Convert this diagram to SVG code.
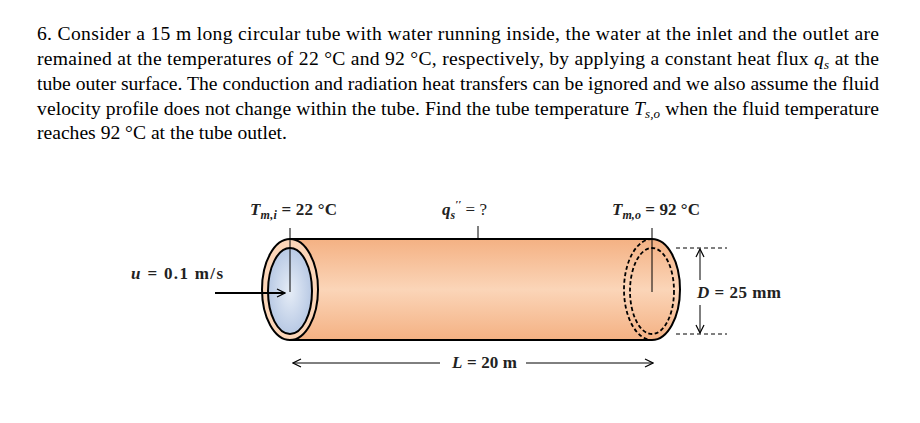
<svg xmlns="http://www.w3.org/2000/svg" width="920" height="423" viewBox="0 0 920 423">
<defs>
<linearGradient id="tg" x1="0" y1="0" x2="0" y2="1"><stop offset="0" stop-color="#f4b183"/><stop offset="0.5" stop-color="#fbd5b8"/><stop offset="1" stop-color="#f4b183"/></linearGradient>
<radialGradient id="wg"><stop offset="0" stop-color="#e6edf7"/><stop offset="1" stop-color="#b8c9e4"/></radialGradient>
<marker id="ah" markerWidth="10" markerHeight="10" refX="9" refY="5" orient="auto-start-reverse" markerUnits="userSpaceOnUse"><path d="M1,1 L9,5 L1,9" fill="none" stroke="#000" stroke-width="1.2"/></marker>
</defs>
<style>
.p{font-family:"Liberation Serif",serif;font-size:19.6px;fill:#000}
.l{font-family:"Liberation Serif",serif;font-size:17px;font-weight:bold;fill:#222}
.ln{stroke:#000;fill:none}
</style>
<rect width="920" height="423" fill="#fff"/>
<g id="question">
<text class="p" x="37" y="40" textLength="842" lengthAdjust="spacing">6. Consider a 15 m long circular tube with water running inside, the water at the inlet and the outlet are</text>
<text class="p" x="37" y="65" textLength="842" lengthAdjust="spacing">remained at the temperatures of 22 °C and 92 °C, respectively, by applying a constant heat flux <tspan font-style="italic">q</tspan><tspan font-size="13" dy="4" font-style="italic">s</tspan><tspan dy="-4"> at the</tspan></text>
<text class="p" x="37" y="90" textLength="842" lengthAdjust="spacing">tube outer surface. The conduction and radiation heat transfers can be ignored and we also assume the fluid</text>
<text class="p" x="37" y="115" textLength="842" lengthAdjust="spacing">velocity profile does not change within the tube. Find the tube temperature <tspan font-style="italic">T</tspan><tspan font-size="13" dy="3" font-style="italic">s,o</tspan><tspan dy="-3"> when the fluid temperature</tspan></text>
<text class="p" x="37" y="139">reaches 92 °C at the tube outlet.</text>
</g>
<g id="tube">
<path d="M290,239 L652,239 A28,50.5 0 0 1 652,340 L290,340 Z" fill="url(#tg)" stroke="#000" stroke-width="2"/>
<ellipse cx="290" cy="289.5" rx="28" ry="50.5" fill="#fbd5b8" stroke="#000" stroke-width="2"/>
<ellipse cx="290" cy="291" rx="22" ry="43" fill="url(#wg)" stroke="#000" stroke-width="2"/>
<path d="M652,239 A28,50.5 0 0 0 652,340" class="ln" stroke-width="1.8" stroke-dasharray="4,2.5"/>
<ellipse cx="652" cy="291" rx="22" ry="43" class="ln" stroke-width="1.8" stroke-dasharray="4,2.5"/>
</g>
<g id="labels">
<text class="l" x="250" y="215" textLength="87" font-style="italic">T<tspan font-size="12" dy="4">m,i</tspan><tspan dy="-4" font-style="normal"> = 22 °C</tspan></text>
<text class="l" x="442" y="215" font-style="italic">q<tspan font-size="12" dy="4">s</tspan><tspan dy="-11" font-size="11">′′</tspan><tspan dy="7" font-style="normal" font-weight="normal"> = ?</tspan></text>
<text class="l" x="612" y="215" textLength="88" font-style="italic">T<tspan font-size="12" dy="4">m,o</tspan><tspan dy="-4" font-style="normal"> = 92 °C</tspan></text>
<text class="l" x="131" y="279" textLength="92"><tspan font-style="italic">u</tspan> = 0.1 m/s</text>
<text class="l" x="697" y="298" textLength="84"><tspan font-style="italic">D</tspan> = 25 mm</text>
<text class="l" x="452" y="368" textLength="65"><tspan font-style="italic">L</tspan> = 20 m</text>
</g>
<g id="connectors">
<line class="ln" x1="290" y1="228" x2="290" y2="292"/>
<line class="ln" x1="478" y1="226" x2="478" y2="239"/>
<line class="ln" x1="652" y1="228" x2="652" y2="292"/>
<line class="ln" x1="215" y1="293" x2="285" y2="293" stroke-width="2.2" marker-end="url(#ah)"/>
<line class="ln" x1="676" y1="248" x2="727" y2="248" stroke-dasharray="4,3"/>
<line class="ln" x1="676" y1="334" x2="727" y2="334" stroke-dasharray="4,3"/>
<line class="ln" x1="700" y1="280" x2="700" y2="249" marker-end="url(#ah)"/>
<line class="ln" x1="700" y1="305" x2="700" y2="333" marker-end="url(#ah)"/>
<line class="ln" x1="440" y1="363" x2="293" y2="363" marker-end="url(#ah)"/>
<line class="ln" x1="526" y1="363" x2="653" y2="363" marker-end="url(#ah)"/>
</g>
</svg>
